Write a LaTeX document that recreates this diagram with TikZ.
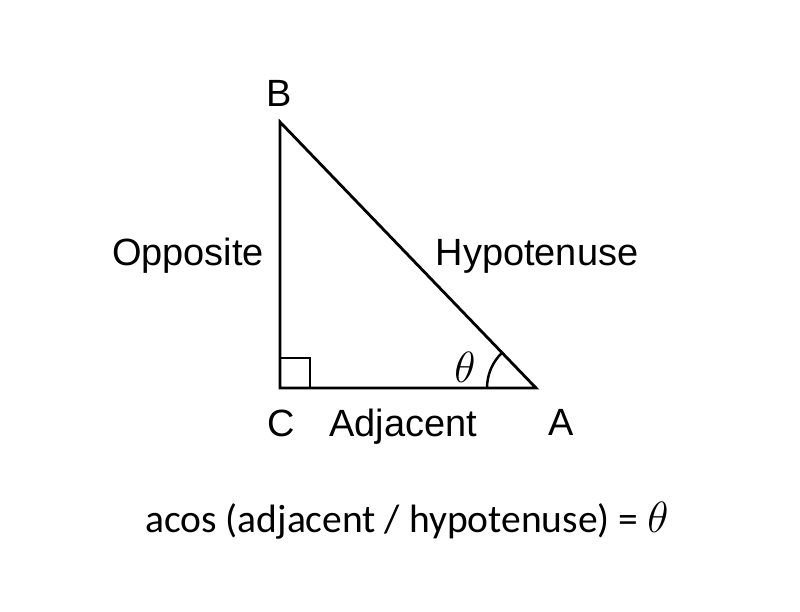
\documentclass[tikz,border=0pt]{standalone}
\usepackage{amsmath}
\usepackage{fontspec}
\setmainfont{Liberation Sans}
\newfontfamily\formulafont{Carlito}
\usepackage{tikz}
\usetikzlibrary{shapes}
\tikzstyle{corner}=[inner sep=0pt,font=\fontsize{21.6}{26}\selectfont]
\tikzstyle{side}=[inner sep=0pt,font=\fontsize{21.6}{26}\selectfont]
\tikzstyle{leg}=[line width=1.6pt,line join=miter]
\newcommand{\tikzpicscale}{1}

\begin{document}
\begin{tikzpicture}[scale=\tikzpicscale,x=0.02cm,y=-0.02cm]
    \useasboundingbox (0,0) rectangle (800,611);
    \coordinate (C) at (280,388);
    \coordinate (B) at (280,122);
    \coordinate (A) at (536,388);
    \draw[leg] (B) -- (C) -- (A) -- cycle;
    \draw[line width=1.4pt] (280,358) -- (310,358) -- (310,388);
    \draw[line width=1.4pt] (487,388) arc[start angle=180,end angle=226.1,radius=49];
    \node[corner] (LB) at (279,93)  {B};
    \node[corner] (LC) at (281,423) {C};
    \node[corner] (LA) at (561,422) {A};
    \node[side] (Opp) at (188,256) {Opposite};
    \node[side] (Hyp) at (537,256) {Hypotenuse};
    \node[side] (Adj) at (403,427) {Adjacent};
    \node[side,font=\fontsize{27}{30}\selectfont] (Th) at (465,367) {$\theta$};
    \node[inner sep=0pt,font=\formulafont\fontsize{22.5}{27}\selectfont] (F) at (407,521)
        {acos (adjacent / hypotenuse) = {\fontsize{25}{27}\selectfont$\theta$}};
\end{tikzpicture}
\end{document}
